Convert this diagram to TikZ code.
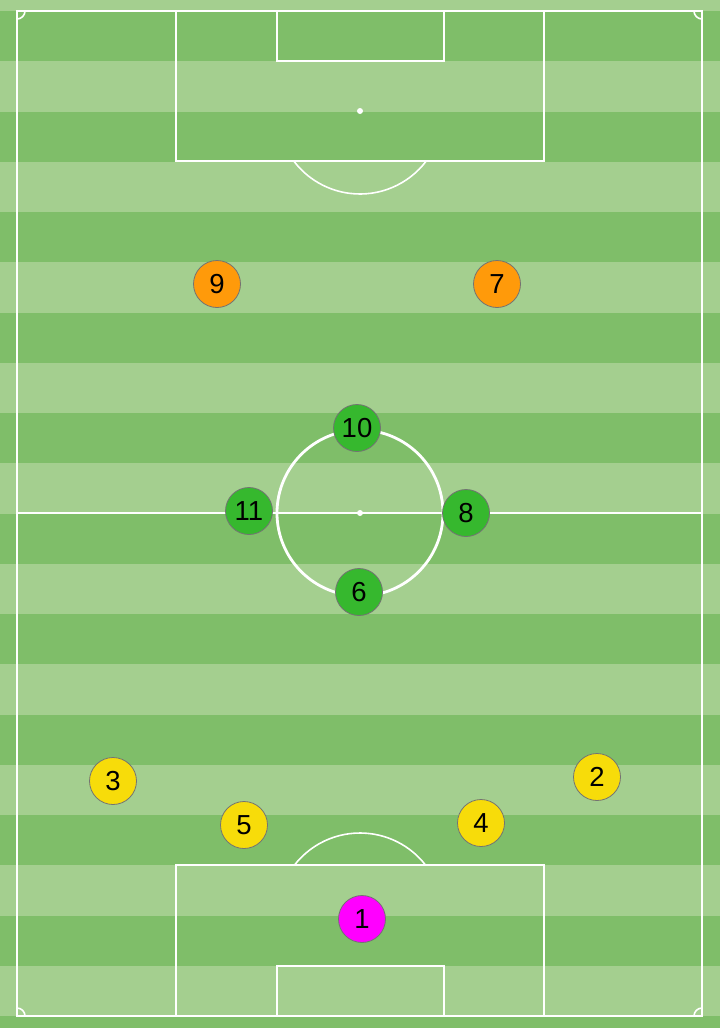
\documentclass[tikz,border=0pt]{standalone}
\usepackage{fontspec}
\setmainfont{Liberation Sans}
\usepackage{xcolor}
\definecolor{grassdark}{HTML}{7FBE69}
\definecolor{grasslight}{HTML}{A4CF8F}
\definecolor{keeper}{HTML}{FF00FF}
\definecolor{back}{HTML}{F7DC0A}
\definecolor{mid}{HTML}{36B82E}
\definecolor{front}{HTML}{FF9A0A}

\begin{document}
\begin{tikzpicture}[x=1pt,y=-1pt,
	line/.style={white,line width=1.6pt},
	player/.style={circle,draw=black!55,line width=0.8pt,minimum size=47pt,inner sep=0pt,
		font=\fontsize{27.5}{28}\selectfont}]
	\useasboundingbox (0,0) rectangle (720,1028);
	% grass
	\fill[grassdark] (0,0) rectangle (720,1028);
	\fill[grasslight] (0,0) rectangle (720,11);
	\foreach \k in {0,...,9}
		\fill[grasslight] (0,{11+50.25*(2*\k+1)}) rectangle (720,{11+50.25*(2*\k+2)});
	% pitch lines
	\draw[line,line width=2.4pt] (17,11) rectangle (702,1016);
	\draw[line] (17,513) -- (702,513);
	\draw[line,line width=2.8pt] (360,513) circle (83);
	\fill[white] (360,513) circle (3);
	\draw[line] (176,11) rectangle (544,161);
	\draw[line] (277,11) rectangle (444,61);
	\fill[white] (360,111) circle (3);
	\draw[line] (360,111) ++(37:83) arc[start angle=37,end angle=143,radius=83];
	\draw[line] (176,865) rectangle (544,1016);
	\draw[line] (277,966) rectangle (444,1016);
	\fill[white] (360,916) circle (3);
	\draw[line] (360,916) ++(-142:83) arc[start angle=-142,end angle=-38,radius=83];
	% corners
	\draw[line] (17,11) ++(0:8) arc[start angle=0,end angle=90,radius=8];
	\draw[line] (702,11) ++(90:8) arc[start angle=90,end angle=180,radius=8];
	\draw[line] (17,1016) ++(-90:8) arc[start angle=-90,end angle=0,radius=8];
	\draw[line] (702,1016) ++(180:8) arc[start angle=180,end angle=270,radius=8];
	% players
	\node[player,fill=front] (p9) at (217,284) {9};
	\node[player,fill=front] (p7) at (497,284) {7};
	\node[player,fill=mid] (p10) at (357,428) {10};
	\node[player,fill=mid] (p11) at (249,511) {11};
	\node[player,fill=mid] (p8) at (466,513) {8};
	\node[player,fill=mid] (p6) at (359,592) {6};
	\node[player,fill=back] (p3) at (113,781) {3};
	\node[player,fill=back] (p5) at (244,825) {5};
	\node[player,fill=back] (p4) at (481,823) {4};
	\node[player,fill=back] (p2) at (597,777) {2};
	\node[player,fill=keeper] (p1) at (362,919) {1};
\end{tikzpicture}
\end{document}
